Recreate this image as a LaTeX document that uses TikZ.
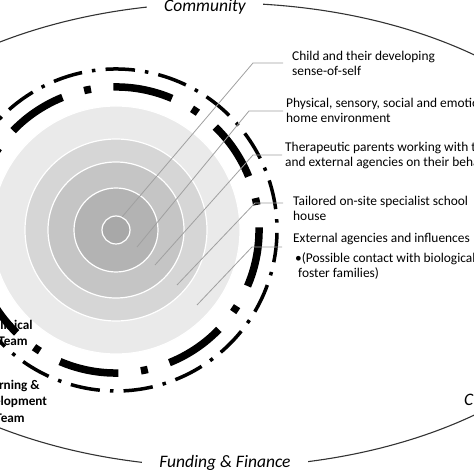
\documentclass[tikz,border=0pt]{standalone}
\usepackage{fontspec}
\setmainfont{Carlito}
\usetikzlibrary{calc,positioning}
\definecolor{ringA}{HTML}{A8A8A8}
\definecolor{ringB}{HTML}{B3B3B3}
\definecolor{ringC}{HTML}{C5C5C5}
\definecolor{ringD}{HTML}{D6D6D6}
\definecolor{ringE}{HTML}{EAEAEA}
\definecolor{leadgray}{HTML}{A0A0A0}
\tikzstyle{layer} = [draw=white,line width=1.2pt]
\tikzstyle{leader} = [draw=leadgray,line width=0.8pt]
\tikzstyle{lbl} = [anchor=west,align=left,inner sep=0pt,font=\fontsize{13.4}{15}\selectfont]
\tikzstyle{team} = [align=center,inner sep=0pt,font=\bfseries\fontsize{13.2}{16.5}\selectfont]
\tikzstyle{rim} = [fill=white,inner xsep=17pt,inner ysep=2pt,font=\itshape\fontsize{17.5}{18}\selectfont]

\begin{document}
\begin{tikzpicture}[x=1pt,y=1pt]
    \clip (0,0) rectangle (474,474);
    \coordinate (c) at (116,244);
    \coordinate (e) at (222,239);
    \draw[line width=1.1pt,black!80] (e) ellipse[x radius=400pt,y radius=232pt];
    \node[rim] (community) at (205,467) {Community};
    \node[rim] (funding) at (225,11) {Funding \& Finance};
    \node[rim,fill=none,inner xsep=0pt,anchor=west] (care) at (464,74) {C};

    \fill[layer,fill=ringE] (c) circle[radius=124pt];
    \fill[layer,fill=ringD] (c) circle[radius=91pt];
    \fill[layer,fill=ringC] (c) circle[radius=68pt];
    \fill[layer,fill=ringB] (c) circle[radius=42pt];
    \fill[layer,fill=ringA] (c) circle[radius=14pt];

    \draw[line width=7.5pt,dash pattern=on 60pt off 22.6pt on 7pt off 22.7pt]
    ($(c)+(-23:143pt)$) arc[start angle=-23,end angle=337,radius=143pt];
    \draw[line width=3.5pt,dash pattern=on 29.5pt off 10.2pt on 3.5pt off 10.04pt]
    ($(c)+(-11.5:161pt)$) arc[start angle=-11.5,end angle=348.5,radius=161pt];

    \node[lbl] (child) at (292,411) {Child and their developing\\sense-of-self};
    \node[lbl] (home) at (286,364) {Physical, sensory, social and emotional\\home environment};
    \node[lbl] (parents) at (285,318) {Therapeutic parents working with the\\and external agencies on their behalf};
    \node[lbl] (school) at (293,266) {Tailored on-site specialist school\\house};
    \node[lbl] (external) at (293,235) {External agencies and influences};
    \node[lbl] (contact) at (295,208) {•(Possible contact with biological\\\hspace*{3pt}foster families)};

    \coordinate (child-in) at (122,257);
    \coordinate (home-in) at (137,227);
    \coordinate (parents-in) at (155,209);
    \coordinate (school-in) at (177,189);
    \coordinate (external-in) at (197,169);
    \draw[leader] ([xshift=-9pt]child.west) -- ++(-30,0) -- (child-in);
    \draw[leader] ([xshift=-3pt,yshift=-1pt]home.west) -- ++(-34,0) -- (home-in);
    \draw[leader] ([xshift=-3pt,yshift=1pt]parents.west) -- ++(-29,0) -- (parents-in);
    \draw[leader] ([xshift=-10pt,yshift=5pt]school.west) -- ++(-28,0) -- (school-in);
    \draw[leader] ([xshift=-11pt,yshift=-8pt]external.west) -- ++(-30,0) -- (external-in);

    \node[team] (clinical) at (13,141) {Clinical\\Team};
    \node[team] (learning) at (10,73) {Learning \&\\Development\\Team};
\end{tikzpicture}
\end{document}
